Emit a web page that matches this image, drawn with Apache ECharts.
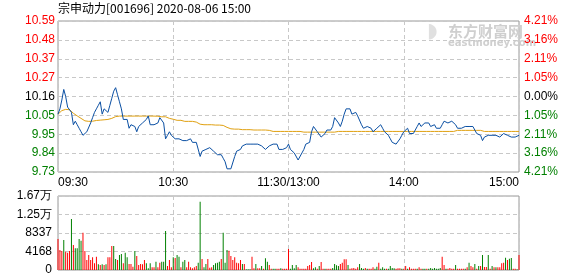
<!DOCTYPE html>
<html><head><meta charset="utf-8">
<script src="https://cdn.jsdelivr.net/npm/echarts@6/dist/echarts.min.js"></script>
<style>html,body{margin:0;padding:0;background:#fff}#c{width:578px;height:276px}</style>
</head><body><div id="c"></div>
<script>
const title = '宗申动力[001696] 2020-08-06 15:00';
const timeLabels = ['09:30', '10:30', '11:30/13:00', '14:00', '15:00'];
const priceTicks = ['9.73', '9.84', '9.95', '10.05', '10.16', '10.27', '10.37', '10.48', '10.59'];
const pctTicks = ['4.21%', '3.16%', '2.11%', '1.05%', '0.00%', '1.05%', '2.11%', '3.16%', '4.21%'];
const prevClose = 10.16;
const priceMin = 9.732, priceMax = 10.588;
const volMax = 16674;

const price = [
10.06,10.09,10.14,10.20,10.16,10.10,10.10,10.07,10.00,10.02,
10.00,9.98,9.96,9.94,9.93,9.96,9.97,10.01,10.04,10.07,
10.09,10.11,10.13,10.06,10.09,10.08,10.07,10.11,10.15,10.19,
10.21,10.17,10.13,10.09,10.03,10.02,10.03,9.98,10.00,10.00,
9.99,9.96,9.99,10.00,10.01,10.01,10.03,10.05,10.00,10.01,
10.00,10.01,10.01,10.04,10.03,10.01,9.92,9.94,9.96,9.94,
9.93,9.92,9.92,9.92,9.91,9.91,9.90,9.91,9.92,9.92,
9.90,9.90,9.90,9.89,9.82,9.85,9.84,9.86,9.87,9.87,
9.86,9.85,9.84,9.83,9.84,9.83,9.81,9.79,9.75,9.75,
9.75,9.76,9.82,9.85,9.85,9.86,9.88,9.89,9.89,9.88,
9.89,9.89,9.89,9.88,9.89,9.88,9.88,9.88,9.86,9.85,
9.88,9.89,9.89,9.88,9.89,9.86,9.85,9.86,9.87,9.87,
9.89,
9.86,9.85,9.84,9.83,9.80,9.81,9.84,9.86,9.89,9.90,
9.90,9.96,9.99,9.99,9.96,9.95,9.93,9.92,9.95,9.97,
9.96,9.97,9.99,10.04,10.03,10.01,9.99,10.02,10.06,10.09,
10.10,10.09,10.06,10.05,10.07,10.05,10.04,10.00,9.98,9.97,
9.99,9.99,9.98,9.96,9.96,9.98,9.99,10.00,9.98,9.96,
9.95,9.94,9.92,9.90,9.90,9.89,9.90,9.92,9.94,9.96,
9.97,9.98,9.95,9.95,9.95,9.96,9.99,10.01,9.99,9.99,
10.01,10.02,10.01,9.99,10.00,10.00,9.98,9.98,9.98,10.00,
10.02,10.02,10.01,10.01,10.02,10.01,10.00,9.98,9.98,9.98,
9.99,9.99,9.99,9.99,9.99,9.99,9.97,9.95,9.95,9.94,
9.91,9.93,9.93,9.94,9.95,9.94,9.94,9.94,9.94,9.93,
9.94,9.95,9.95,9.94,9.94,9.93,9.93,9.93,9.93,9.94
];

const avgPrice = [
10.06,10.07,10.08,10.087,10.087,10.087,10.085,10.075,10.065,10.058,
10.05,10.042,10.036,10.028,10.022,10.019,10.019,10.019,10.02,10.022,
10.024,10.025,10.026,10.027,10.028,10.029,10.03,10.031,10.036,10.042,
10.046,10.049,10.049,10.049,10.049,10.049,10.049,10.049,10.049,10.049,
10.049,10.049,10.049,10.049,10.049,10.049,10.049,10.049,10.049,10.049,
10.049,10.048,10.048,10.048,10.045,10.045,10.045,10.04,10.036,10.033,
10.031,10.03,10.025,10.025,10.025,10.025,10.019,10.019,10.019,10.019,
10.019,10.019,10.015,10.008,10.003,10.001,10.0,10.0,10.0,10.0,
10.0,9.998,9.998,9.998,9.998,9.996,9.996,9.99,9.985,9.98,
9.977,9.975,9.975,9.975,9.975,9.975,9.972,9.972,9.972,9.972,
9.972,9.97,9.97,9.97,9.97,9.97,9.97,9.97,9.97,9.97,
9.968,9.968,9.962,9.962,9.962,9.962,9.962,9.962,9.962,9.962,
9.962,
9.962,9.962,9.962,9.962,9.962,9.962,9.962,9.958,9.958,9.958,
9.958,9.958,9.958,9.958,9.958,9.958,9.958,9.958,9.958,9.958,
9.958,9.958,9.958,9.958,9.962,9.962,9.962,9.962,9.962,9.962,
9.962,9.962,9.962,9.962,9.962,9.962,9.962,9.962,9.962,9.962,
9.962,9.962,9.962,9.962,9.962,9.962,9.962,9.962,9.962,9.962,
9.962,9.962,9.962,9.962,9.962,9.962,9.962,9.962,9.962,9.962,
9.962,9.962,9.962,9.962,9.962,9.962,9.962,9.962,9.962,9.962,
9.962,9.962,9.962,9.962,9.962,9.962,9.962,9.962,9.962,9.962,
9.962,9.962,9.962,9.962,9.962,9.962,9.968,9.968,9.968,9.968,
9.968,9.968,9.968,9.968,9.968,9.968,9.968,9.968,9.968,9.968,
9.968,9.962,9.962,9.962,9.962,9.962,9.962,9.962,9.962,9.962,
9.962,9.962,9.962,9.962,9.962,9.962,9.962,9.962,9.962,9.962
];

const volume = [
6975,4506,4281,6759,4130,3905,4281,11490,5633,4882,
4882,6984,6609,8411,4281,2253,3380,2253,2854,1502,
3004,1277,1127,1277,1127,1277,2854,2854,5407,5407,
2478,2253,3380,3605,1502,3905,2854,1352,1352,751,
4281,3154,1127,1352,1277,2253,1502,375,1502,601,
601,1878,601,1652,1878,1878,8787,901,2253,601,
2854,2704,3380,3004,601,1878,2253,601,1878,601,
375,601,901,1652,15396,2478,601,1352,2478,526,
601,1127,1502,1652,1878,2478,8411,1652,4506,4356,
3154,2253,2854,1652,1502,2253,1352,1352,150,150,
150,3004,375,1352,375,375,901,300,2629,1878,
1127,300,300,300,300,300,375,300,300,300,
4731,
300,1127,375,1127,601,300,300,300,300,901,
1127,1802,375,601,300,901,1802,300,300,300,
300,300,451,1352,1051,901,1352,1652,2403,2403,
1127,300,375,451,300,601,1352,451,300,451,
300,300,300,601,300,751,1652,300,601,300,
300,300,901,451,375,300,375,375,300,300,
901,300,601,300,300,300,300,601,300,300,
300,300,300,451,300,451,300,300,451,3004,
1127,300,300,451,300,300,1127,300,300,300,
300,300,601,1652,901,601,1352,300,901,901,
3380,676,676,3380,300,901,601,601,601,601,
1502,1652,2779,2253,2554,2704,300,300,150,3380
];
// 1 = up (red), -1 = down (green)
const volDir = [
1,1,1,-1,1,1,1,-1,1,-1,
-1,-1,-1,1,1,1,1,1,1,1,
1,-1,1,-1,1,-1,1,1,1,-1,
-1,1,-1,-1,1,-1,-1,1,1,1,
-1,1,1,1,1,1,-1,-1,-1,1,
1,-1,1,1,-1,-1,-1,1,1,1,
-1,1,-1,-1,1,-1,-1,1,1,1,
1,1,1,-1,-1,1,-1,-1,1,1,
1,-1,-1,-1,-1,1,-1,-1,-1,1,
1,1,1,1,1,1,-1,1,-1,-1,
-1,1,1,-1,1,1,-1,1,-1,-1,
1,1,-1,-1,1,1,-1,1,1,1,
1,
-1,-1,-1,-1,1,1,1,1,1,1,
1,1,-1,-1,1,-1,1,1,-1,1,
1,1,-1,-1,-1,-1,1,1,1,1,
-1,1,1,1,1,1,-1,-1,-1,1,
-1,1,1,1,-1,-1,1,-1,-1,-1,
1,-1,-1,-1,-1,1,1,1,-1,1,
1,-1,1,1,1,1,-1,1,1,-1,
-1,1,-1,-1,-1,-1,-1,-1,-1,1,
1,-1,1,1,1,1,-1,1,1,1,
1,-1,1,-1,1,1,-1,1,-1,1,
-1,1,1,-1,1,-1,1,-1,1,1,
1,1,-1,1,-1,-1,1,1,-1,1
];

const RED = '#ff0000', GREEN = '#008000', BLACK = '#000000';
const FONT = 'Liberation Sans, Arial, sans-serif';
const chart = echarts.init(document.getElementById('c'), null, {renderer: 'canvas'});
const lineData = price.map((p, i) => [i, p]);
const avgData = avgPrice.map((p, i) => [i, p]);
const volData = volume.map((v, i) => ({value: [i, v], itemStyle: {color: volDir[i] > 0 ? RED : GREEN}}));
const tickColor = (i) => i < 4 ? GREEN : (i === 4 ? BLACK : RED);
const dash = {show: true, lineStyle: {color: '#c8c8c8', type: [4, 3], width: 1}};

chart.setOption({
  animation: false,
  backgroundColor: '#fff',
  textStyle: {fontFamily: FONT},
  graphic: [
    {type: 'text', left: 58, top: 2, style: {text: title, font: '12px "Noto Sans CJK SC", sans-serif', fill: '#000'}},
    {type: 'text', left: 448, top: 24, style: {text: '东方财富网', font: 'bold 15px "Noto Sans CJK SC", sans-serif', fill: '#cfcfcf'}},
    {type: 'text', left: 448, top: 38, style: {text: 'eastmoney.com', font: 'bold 10px "DejaVu Sans", sans-serif', fill: '#cfcfcf'}},
    {type: 'text', left: 427, top: 22, style: {text: '◗', font: 'bold 20px "DejaVu Sans", sans-serif', fill: '#e0e0e0'}}
  ],
  grid: [
    {left: 58, top: 21, width: 461, height: 151, show: true, borderColor: '#999', borderWidth: 1, backgroundColor: 'transparent'},
    {left: 58, top: 196, width: 461, height: 74, show: true, borderColor: '#999', borderWidth: 1, backgroundColor: 'transparent'}
  ],
  xAxis: [
    {type: 'value', gridIndex: 0, min: 0, max: 240, interval: 60,
     axisLine: {show: false}, axisTick: {show: false}, splitLine: dash,
     axisLabel: {show: true, margin: 5, fontSize: 12, color: '#000', fontFamily: FONT,
       alignMinLabel: 'left', alignMaxLabel: 'right',
       formatter: (v) => timeLabels[Math.round(v / 60)]}},
    {type: 'value', gridIndex: 1, min: 0, max: 240, interval: 60,
     axisLine: {show: false}, axisTick: {show: false}, splitLine: dash, axisLabel: {show: false}}
  ],
  yAxis: [
    {type: 'category', gridIndex: 0, data: priceTicks, boundaryGap: false, position: 'left',
     axisLine: {show: false}, axisTick: {show: false}, splitLine: dash,
     axisLabel: {margin: 3, fontSize: 12, fontFamily: FONT, interval: 0, color: (v, i) => tickColor(i)}},
    {type: 'category', gridIndex: 0, data: pctTicks, boundaryGap: false, position: 'right',
     axisLine: {show: false}, axisTick: {show: false}, splitLine: {show: false},
     axisLabel: {margin: 5, fontSize: 12, fontFamily: FONT, interval: 0, color: (v, i) => tickColor(i)}},
    {type: 'value', gridIndex: 0, min: priceMin, max: priceMax, show: false, splitLine: {show: false}},
    {type: 'value', gridIndex: 1, min: 0, max: volMax, interval: volMax / 4,
     axisLine: {show: false}, axisTick: {show: false}, splitLine: dash,
     axisLabel: {margin: 6, fontSize: 12, fontFamily: FONT, color: '#000',
       formatter: (v) => v === 0 ? '0' : (v >= 10000 ? (v / 10000).toFixed(2) + '万' : String(Math.floor(v)))}}
  ],
  series: [
    {type: 'line', xAxisIndex: 0, yAxisIndex: 2, data: avgData, showSymbol: false, symbol: 'none',
     lineStyle: {color: '#e0a010', width: 1}, z: 3},
    {type: 'line', xAxisIndex: 0, yAxisIndex: 2, data: lineData, showSymbol: false, symbol: 'none',
     lineStyle: {color: '#0a4fa3', width: 1}, z: 4},
    {type: 'bar', xAxisIndex: 1, yAxisIndex: 3, data: volData, barWidth: 1, z: 3}
  ]
});
</script></body></html>
